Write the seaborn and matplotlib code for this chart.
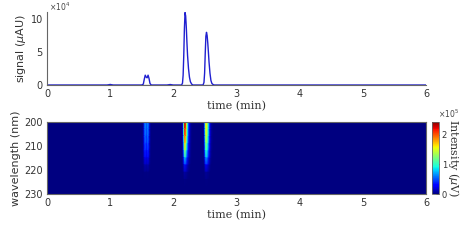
import numpy as np
import matplotlib
matplotlib.use("Agg")
import matplotlib.pyplot as plt
from matplotlib.ticker import FuncFormatter
import seaborn as sns
import pandas as pd

# ---- data ----
time_min = [0.00, 0.95, 0.98, 1.00, 1.02, 1.05,
            1.50, 1.525, 1.54, 1.555, 1.57, 1.585, 1.60, 1.615, 1.63, 1.65,
            1.90, 1.95, 2.00,
            2.13, 2.145, 2.155, 2.165, 2.175, 2.185, 2.195, 2.205, 2.215,
            2.225, 2.24, 2.255, 2.27, 2.29, 2.31,
            2.47, 2.485, 2.495, 2.505, 2.515, 2.525, 2.535, 2.545, 2.555,
            2.565, 2.58, 2.595, 2.61, 2.63, 2.65,
            6.00]
signal_uAU = [0, 0, 500, 900, 500, 0,
              0, 1500, 9000, 15000, 12000, 11000, 15000, 10000, 2500, 0,
              0, 800, 0,
              0, 3000, 15000, 45000, 85000, 110000, 105000, 88000, 65000,
              45000, 25000, 12000, 5000, 1500, 0,
              0, 4000, 18000, 48000, 74000, 80000, 75000, 64000, 50000,
              35000, 18000, 7000, 2500, 700, 0,
              0]
baseline_uAU = [0] * len(time_min)

wavelength_nm = [200, 203, 206, 209, 212, 215, 218, 221, 224, 227, 230]
peak_ranges = [(1.45, 1.70), (2.10, 2.36), (2.45, 2.70)]
peak_heights = [15000, 110000, 80000]
peak_spectra = [  # intensity (µV) at each wavelength, apex of each peak
    [0.68e5, 0.66e5, 0.61e5, 0.54e5, 0.44e5, 0.29e5, 0.12e5, 0.02e5, 0.0, 0.0, 0.0],
    [2.45e5, 2.25e5, 2.08e5, 1.72e5, 1.35e5, 0.86e5, 0.37e5, 0.10e5, 0.02e5, 0.0, 0.0],
    [1.62e5, 1.57e5, 1.47e5, 1.27e5, 1.03e5, 0.74e5, 0.29e5, 0.07e5, 0.02e5, 0.0, 0.0],
]

# ---- figure ----
sns.set_theme(style="white")
plt.rcParams["font.family"] = ["DejaVu Sans"]
fig = plt.figure(figsize=(4.74, 2.43), dpi=100)

ax1 = fig.add_axes([0.0992, 0.650, 0.7995, 0.301])
ax2 = fig.add_axes([0.0992, 0.2016, 0.7995, 0.2984])
cax = fig.add_axes([0.9114, 0.2016, 0.0148, 0.2984])

df = pd.DataFrame({"time": time_min, "signal": signal_uAU, "base": baseline_uAU})
sns.lineplot(data=df, x="time", y="base", ax=ax1, color="#9a9a8a", lw=1.0)
sns.lineplot(data=df, x="time", y="signal", ax=ax1, color="#2020d0", lw=1.0)

tick_kw = dict(direction="in", length=2.5, width=0.6, colors="#555555",
               labelsize=7, labelcolor="#333333", pad=3)
ax1.set_xlim(0, 6)
ax1.set_ylim(0, 111000)
ax1.set_xticks([0, 1, 2, 3, 4, 5, 6])
ax1.set_yticks([0, 50000, 100000])
ax1.yaxis.set_major_formatter(FuncFormatter(lambda v, p: f"{v / 1e4:g}"))
ax1.tick_params(**tick_kw)
fig.text(0.104, 0.945, "$\\times10^4$", fontsize=5.5, color="#444444",
         ha="left", va="bottom")
for s in ["top", "right"]:
    ax1.spines[s].set_visible(False)
for s in ["left", "bottom"]:
    ax1.spines[s].set_color("#666666")
    ax1.spines[s].set_linewidth(0.8)
ax1.set_xlabel("time (min)", family="DejaVu Serif", fontsize=8, color="#333333", labelpad=1)
ax1.set_ylabel("signal ($\\mu$AU)", fontsize=8, color="#333333", labelpad=2)

# heatmap
t = np.array(time_min)
sig = np.array(signal_uAU, dtype=float)
Z = np.zeros((len(wavelength_nm), len(time_min)))
for (lo, hi), h, spec in zip(peak_ranges, peak_heights, peak_spectra):
    mask = (t >= lo) & (t <= hi)
    Z += np.outer(np.array(spec), np.where(mask, sig / h, 0.0))
mesh = ax2.pcolormesh(time_min, wavelength_nm, Z, shading="gouraud",
                      cmap="jet", vmin=0, vmax=2.45e5)
ax2.set_xlim(0, 6)
ax2.set_ylim(230, 200)
ax2.set_xticks([0, 1, 2, 3, 4, 5, 6])
ax2.set_yticks([200, 210, 220, 230])
ax2.tick_params(**tick_kw)
for s in ax2.spines.values():
    s.set_color("#666666")
    s.set_linewidth(0.8)
ax2.set_xlabel("time (min)", family="DejaVu Serif", fontsize=8, color="#333333", labelpad=1)
ax2.set_ylabel("wavelength (nm)", fontsize=8, color="#333333", labelpad=2)

cb = fig.colorbar(mesh, cax=cax)
cb.set_ticks([0, 1e5, 2e5])
cb.ax.yaxis.set_major_formatter(FuncFormatter(lambda v, p: f"{v / 1e5:g}"))
cb.ax.tick_params(direction="in", length=2, width=0.6, colors="#555555",
                  labelsize=6, labelcolor="#333333", pad=2)
cb.outline.set_edgecolor("#666666")
cb.outline.set_linewidth(0.6)
cb.set_label("Intensity ($\\mu$V)", family="DejaVu Serif", fontsize=8,
             color="#333333", rotation=270, labelpad=10)
fig.text(0.925, 0.508, "$\\times10^5$", fontsize=5.5, color="#444444",
         ha="left", va="bottom")

fig.savefig("out.png", dpi=100, facecolor="white")
